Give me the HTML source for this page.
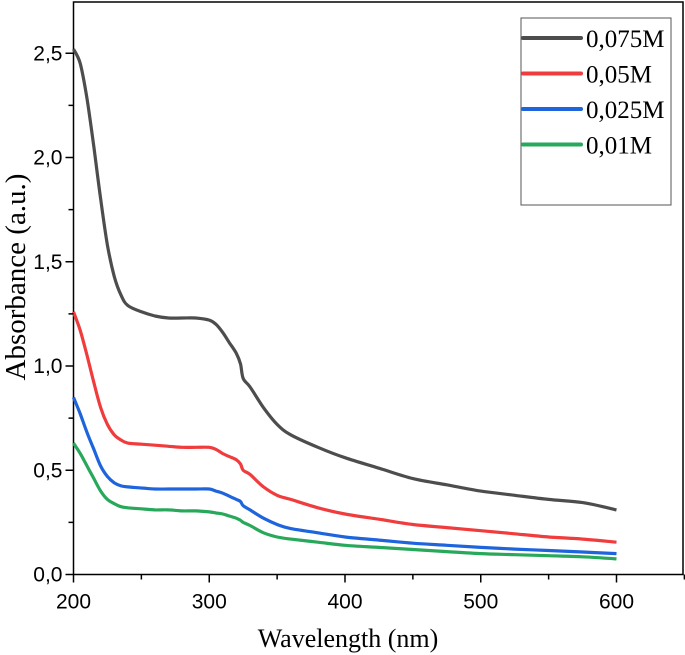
<!DOCTYPE html>
<html><head><meta charset="utf-8"><style>
html,body{margin:0;padding:0;background:#fff;}
svg{display:block;}
</style></head><body>
<svg id="chart" width="685" height="655" xmlns="http://www.w3.org/2000/svg" font-family="Liberation Sans, Arial, sans-serif">
<g id="plot"></g>
</svg>
<script>
const wl = [200,205,210,215,220,225,230,235,240,250,260,270,280,290,300,305,310,315,320,323,325,330,340,350,360,380,400,425,450,475,500,525,550,575,600];
const blackVals = [2.52,2.45,2.28,2.05,1.80,1.58,1.43,1.34,1.29,1.26,1.24,1.23,1.23,1.23,1.22,1.20,1.16,1.11,1.06,1.01,0.94,0.90,0.80,0.72,0.67,0.61,0.56,0.51,0.46,0.43,0.40,0.38,0.36,0.345,0.31];
const redVals =   [1.26,1.17,1.05,0.92,0.80,0.72,0.67,0.645,0.63,0.625,0.62,0.615,0.61,0.61,0.61,0.60,0.58,0.565,0.55,0.53,0.50,0.48,0.42,0.38,0.36,0.32,0.29,0.265,0.24,0.225,0.21,0.195,0.18,0.17,0.155];
const blueVals =  [0.85,0.77,0.68,0.60,0.52,0.47,0.44,0.425,0.42,0.415,0.41,0.41,0.41,0.41,0.41,0.40,0.39,0.375,0.36,0.35,0.33,0.31,0.27,0.24,0.22,0.20,0.18,0.165,0.15,0.14,0.13,0.122,0.115,0.108,0.10];
const greenVals = [0.63,0.58,0.52,0.46,0.40,0.36,0.34,0.325,0.32,0.315,0.31,0.31,0.305,0.305,0.30,0.295,0.29,0.28,0.27,0.26,0.25,0.235,0.20,0.18,0.17,0.155,0.14,0.13,0.12,0.11,0.10,0.095,0.09,0.085,0.075];
const seriesNames = ["0,075M","0,05M","0,025M","0,01M"];
const xTicks = [200,300,400,500,600];
const yTicks = [0,0.5,1.0,1.5,2.0,2.5];
const yTickLabels = ["0,0","0,5","1,0","1,5","2,0","2,5"];

const X0=73.5, XR=683, Y0=574.5, YT=2;
const sx = v => X0 + (v-200)*1.3575;
const sy = v => Y0 - v*208.5;
const NS="http://www.w3.org/2000/svg";
const g=document.getElementById('plot');
function mk(tag,attrs,parent){const e=document.createElementNS(NS,tag);for(const k in attrs)e.setAttribute(k,attrs[k]);(parent||g).appendChild(e);return e;}

const frame=mk('rect',{x:X0,y:YT,width:XR-X0,height:Y0-YT,fill:'none',stroke:'#000','stroke-width':1.5});



function smoothPath(pts){
  let d='M'+pts[0][0].toFixed(1)+','+pts[0][1].toFixed(1);
  for(let i=0;i<pts.length-1;i++){
    const p0=pts[i-1]||pts[i],p1=pts[i],p2=pts[i+1],p3=pts[i+2]||p2;
    const c1=[p1[0]+(p2[0]-p0[0])/6,p1[1]+(p2[1]-p0[1])/6];
    const c2=[p2[0]-(p3[0]-p1[0])/6,p2[1]-(p3[1]-p1[1])/6];
    d+=' C'+c1[0].toFixed(1)+','+c1[1].toFixed(1)+' '+c2[0].toFixed(1)+','+c2[1].toFixed(1)+' '+p2[0].toFixed(1)+','+p2[1].toFixed(1);
  }
  return d;
}

const colors=['#4d4d4d','#f03c3c','#1e64dc','#28a85a'];
const data=[blackVals,redVals,blueVals,greenVals];
data.forEach((vals,i)=>{
  const pts=vals.map((v,j)=>[sx(wl[j]),sy(v)]);
  const p=mk('path',{d:smoothPath(pts),fill:'none',stroke:colors[i],'stroke-width':3.2,'stroke-linejoin':'round'});
  
  
});

xTicks.forEach(t=>{
  const l=mk('line',{x1:sx(t),x2:sx(t),y1:Y0,y2:Y0+8,stroke:'#000','stroke-width':1.5});
  
  
  const tx=mk('text',{x:sx(t),y:Y0+34,'font-size':21,'text-anchor':'middle',fill:'#000'});
  tx.textContent=t;
  
  
});
[250,350,450,550,650].forEach(t=>{
  mk('line',{x1:sx(t),x2:sx(t),y1:Y0,y2:Y0+5,stroke:'#000','stroke-width':1.5});
});
yTicks.forEach((t,i)=>{
  const l=mk('line',{x1:X0-8,x2:X0,y1:sy(t),y2:sy(t),stroke:'#000','stroke-width':1.5});
  
  
  const tx=mk('text',{x:X0-11,y:sy(t)+7,'font-size':21,'text-anchor':'end',fill:'#000'});
  tx.textContent=yTickLabels[i];
  
  
  if(t<2.5){mk('line',{x1:X0-5,x2:X0,y1:sy(t+0.25),y2:sy(t+0.25),stroke:'#000','stroke-width':1.5});}
});

const xt=mk('text',{x:348,y:647,'font-size':26,'text-anchor':'middle','font-family':'Liberation Serif, serif',fill:'#000'});
xt.textContent='Wavelength (nm)';


const yt=mk('text',{x:0,y:0,'font-size':29,'text-anchor':'middle','font-family':'Liberation Serif, serif',fill:'#000',transform:'translate(25,277) rotate(-90)'});
yt.textContent='Absorbance (a.u.)';



const lg=mk('g',{});


mk('rect',{x:521,y:18,width:150,height:187,fill:'#fff',stroke:'#555','stroke-width':1},lg);
seriesNames.forEach((n,i)=>{
  const y=38+i*35.5;
  const ln=mk('line',{x1:523,x2:581,y1:y,y2:y,stroke:colors[i],'stroke-width':4,'stroke-linecap':'round'},lg);
  
  
  const tx=mk('text',{x:586,y:y+9,'font-size':25,'font-family':'Liberation Serif, serif',fill:'#000'},lg);
  tx.textContent=n;
  
  
});
</script>
</body></html>
